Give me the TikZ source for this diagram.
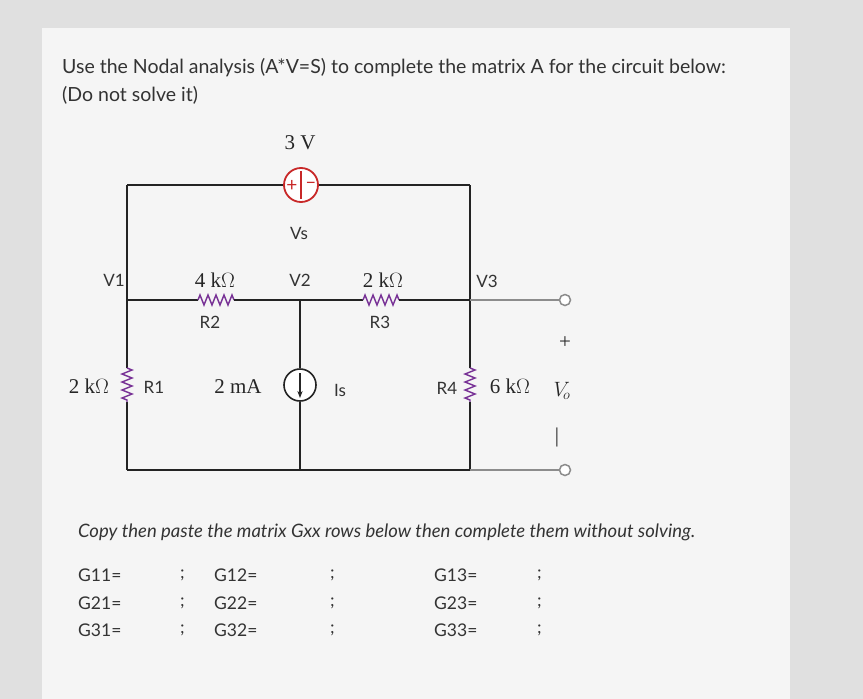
\documentclass[tikz,border=0pt]{standalone}
\usepackage{fontspec}
\setmainfont{Lato}
\newfontfamily\serifu{Liberation Serif}
\usetikzlibrary{decorations.pathmorphing,arrows.meta}
\definecolor{wire}{RGB}{35,35,35}
\definecolor{res}{RGB}{120,50,150}
\definecolor{src}{RGB}{200,40,40}
\definecolor{term}{RGB}{140,140,140}
\begin{document}
\begin{tikzpicture}[x=1pt,y=-1pt,
  w/.style={draw=wire,line width=2.2pt},
  rz/.style={draw=res,line width=1.4pt,decorate,decoration={zigzag,segment length=8pt,amplitude=5pt}},
  lbl/.style={font=\fontsize{17}{20}\selectfont,text=black!80,inner sep=0pt},
  sl/.style={font=\serifu\fontsize{21}{24}\selectfont,text=black!85,inner sep=0pt},
  tx/.style={font=\fontsize{19.5}{23}\selectfont,text=black!80,anchor=west,inner sep=0pt},
  tm/.style={circle,draw=term,line width=1.5pt,fill=white,minimum size=11pt,inner sep=0pt}]
\useasboundingbox (0,0) rectangle (863,699);
\fill[black!12] (0,0) rectangle (863,699);
\fill[white!96!black] (42,28) rectangle (790,699);
\node[tx] (t1) at (62,68) {Use the Nodal analysis (A*V=S) to complete the matrix A for the circuit below:};
\node[tx] (t2) at (62,95) {(Do not solve it)};
% coordinates
\coordinate (tl) at (127,185); \coordinate (tr) at (470,185);
\coordinate (ml) at (127,300); \coordinate (mm) at (300,300); \coordinate (mr) at (470,300);
\coordinate (bl) at (127,470); \coordinate (bm) at (300,470); \coordinate (br) at (470,470);
\node[tm] (o1) at (565,300) {}; \node[tm] (o2) at (565,470) {};
\node[circle,draw=src,line width=1.8pt,fill=white,minimum size=34pt,inner sep=0pt] (vs) at (301,185) {};
\node[circle,draw=wire,line width=1.6pt,fill=white,minimum size=32pt,inner sep=0pt] (is) at (300,385) {};
% wires
\draw[w] (tl) -- (vs.west); \draw[w] (vs.east) -- (tr);
\draw[w] (tl) -- (127,368); \draw[w] (127,402) -- (bl);
\draw[rz] (127,368) -- (127,402);
\draw[w] (ml) -- (198,300); \draw[rz] (198,300) -- (234,300); \draw[w] (234,300) -- (mm);
\draw[w] (mm) -- (363,300); \draw[rz] (363,300) -- (399,300); \draw[w] (399,300) -- (mr);
\draw[w] (tr) -- (470,368); \draw[rz] (470,368) -- (470,402); \draw[w] (470,402) -- (br);
\draw[w] (mm) -- (is.north); \draw[w] (is.south) -- (bm);
\draw[w] (bl) -- (br);
\draw[draw=term,line width=2pt] (mr) -- (o1); \draw[draw=term,line width=2pt] (br) -- (o2);
\draw[-{Stealth[length=7pt]},line width=1.8pt,black!85] (300,373) -- (300,398);
\node[text=src,font=\fontsize{19}{19}\selectfont,inner sep=0pt] at (292,186) {+};
\node[text=src,font=\fontsize{19}{19}\selectfont,inner sep=0pt] at (311,185) {--};
\draw[src,line width=1.2pt] (301,171) -- (301,199);
% labels
\node[sl] (l3v) at (300,143) {3 V};
\node[lbl] (lvs) at (299,233) {Vs};
\node[lbl] (lv1) at (114,280) {V1};
\node[sl] (l4k) at (215,280) {4 k$\Omega$};
\node[lbl] (lv2) at (300,280) {V2};
\node[sl] (l2k) at (383,280) {2 k$\Omega$};
\node[lbl] (lv3) at (487,281) {V3};
\node[lbl] (lr2) at (210,322) {R2};
\node[lbl] (lr3) at (380,322) {R3};
\node[sl] (lp) at (565,343) {+};
\node[sl] (l2kl) at (89,386) {2 k$\Omega$};
\node[lbl] (lr1) at (154,387) {R1};
\node[sl] (l2ma) at (238,387) {2 mA};
\node[lbl] (lis) at (340,390) {Is};
\node[lbl] (lr4) at (447,388) {R4};
\node[sl] (l6k) at (510,386) {6 k$\Omega$};
\node[sl] (lvo) at (562,391) {$V_{\!o}$};
\node[sl] (lm) at (557,437) {|};
\node[tx,font=\itshape\fontsize{18.5}{22}\selectfont] (t3) at (78,532) {Copy then paste the matrix Gxx rows below then complete them without solving.};
\foreach \r/\y in {1/575,2/603,3/630}{
  \node[tx,font=\fontsize{17.5}{20}\selectfont] (g\r1) at (78,\y) {G\r1=};
  \node[tx,font=\fontsize{17.5}{20}\selectfont] (s\r1) at (180,\y) {;};
  \node[tx,font=\fontsize{17.5}{20}\selectfont] (g\r2) at (214,\y) {G\r2=};
  \node[tx,font=\fontsize{17.5}{20}\selectfont] (s\r2) at (330,\y) {;};
  \node[tx,font=\fontsize{17.5}{20}\selectfont] (g\r3) at (434,\y) {G\r3=};
  \node[tx,font=\fontsize{17.5}{20}\selectfont] (s\r3) at (537,\y) {;};
}
\end{tikzpicture}
\end{document}
